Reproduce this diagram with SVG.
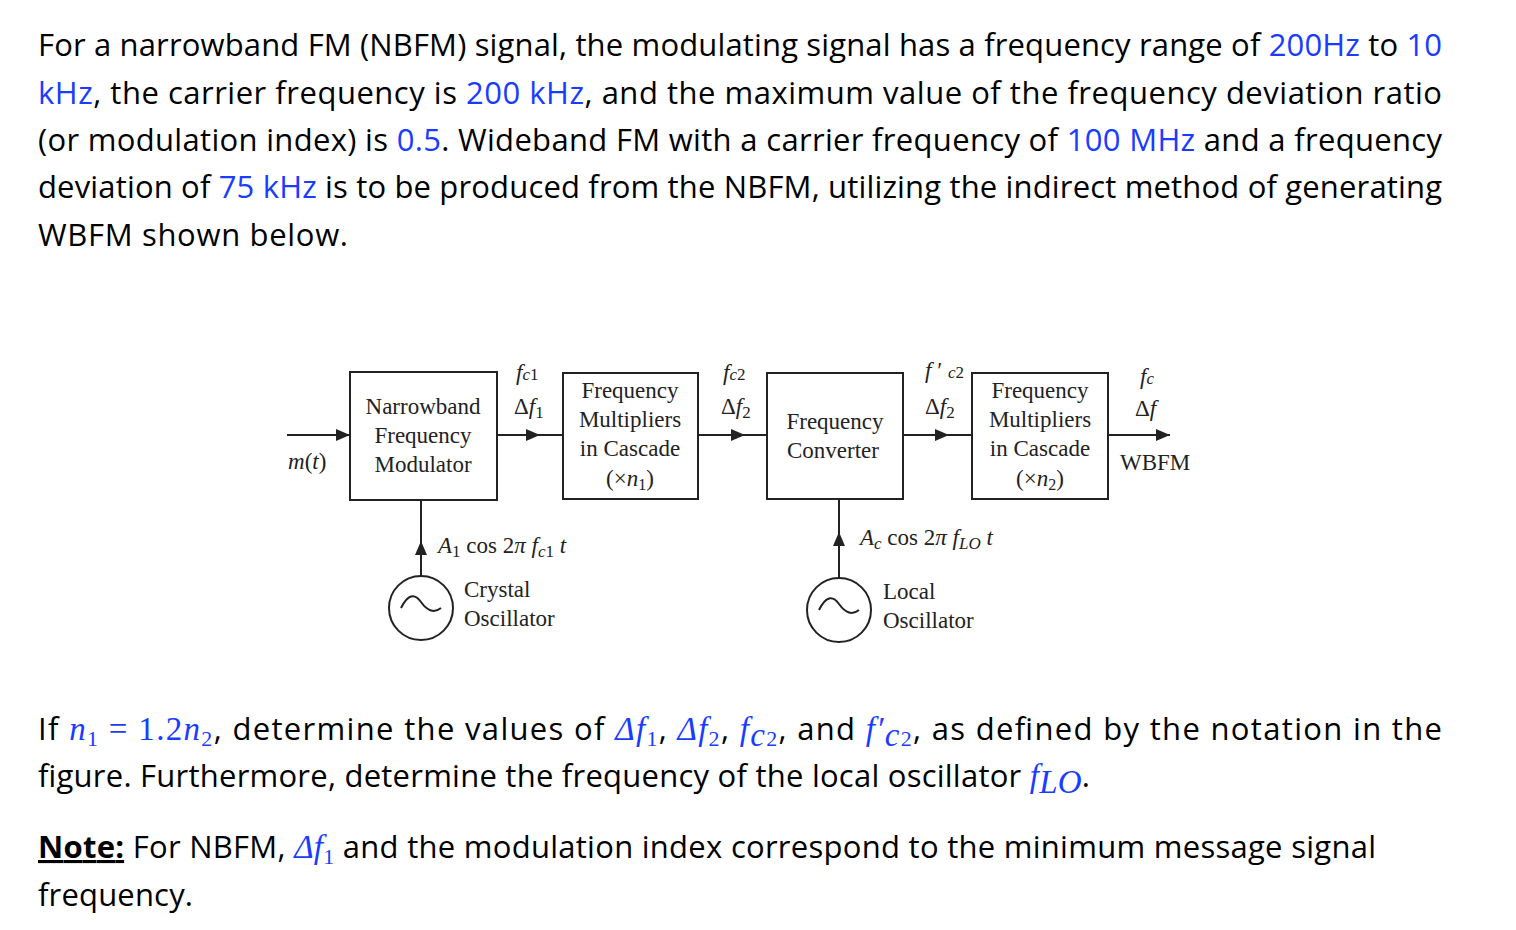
<svg xmlns="http://www.w3.org/2000/svg" width="1516" height="930" viewBox="0 0 1516 930">
<style>
.t{font-family:"Open Sans","Liberation Sans",sans-serif;font-size:31px;fill:#000}
.b{fill:#1a3cff}
.m{font-family:"Liberation Serif",serif;font-style:italic;font-size:33px}
.d{font-family:"Liberation Serif",serif;font-size:23px;fill:#222}
.i{font-style:italic}
.ln{stroke:#222;stroke-width:2;fill:none}
.box{fill:#fff;stroke:#222;stroke-width:2}
</style>
<rect width="1516" height="930" fill="#fff"/>
<text class="t" x="38" y="56" textLength="1404" lengthAdjust="spacing">For a narrowband FM (NBFM) signal, the modulating signal has a frequency range of <tspan class="b">200Hz</tspan> to <tspan class="b">10</tspan></text>
<text class="t" x="38" y="104" textLength="1404" lengthAdjust="spacing"><tspan class="b">kHz</tspan>, the carrier frequency is <tspan class="b">200 kHz</tspan>, and the maximum value of the frequency deviation ratio</text>
<text class="t" x="38" y="151" textLength="1404" lengthAdjust="spacing">(or modulation index) is <tspan class="b">0.5</tspan>. Wideband FM with a carrier frequency of <tspan class="b">100 MHz</tspan> and a frequency</text>
<text class="t" x="38" y="198" textLength="1404" lengthAdjust="spacing">deviation of <tspan class="b">75 kHz</tspan> is to be produced from the NBFM, utilizing the indirect method of generating</text>
<text class="t" x="38" y="246" textLength="310" lengthAdjust="spacing">WBFM shown below.</text>

<g id="connectors">
<line class="ln" x1="287" y1="435" x2="350" y2="435"/><path d="M336,429 L350,435 L336,441Z" fill="#222"/>
<line class="ln" x1="497" y1="435" x2="563" y2="435"/><path d="M526,429 L540,435 L526,441Z" fill="#222"/>
<line class="ln" x1="698" y1="435" x2="767" y2="435"/><path d="M731,429 L745,435 L731,441Z" fill="#222"/>
<line class="ln" x1="903" y1="435" x2="972" y2="435"/><path d="M935,429 L949,435 L935,441Z" fill="#222"/>
<line class="ln" x1="1108" y1="435" x2="1170" y2="435"/><path d="M1156,429 L1170,435 L1156,441Z" fill="#222"/>
<line class="ln" x1="421" y1="576" x2="421" y2="500"/><path d="M415,555 L421,541 L427,555Z" fill="#222"/>
<line class="ln" x1="839" y1="578" x2="839" y2="499"/><path d="M833,546 L839,532 L845,546Z" fill="#222"/>
</g>

<g id="nbfm"><rect class="box" x="350" y="372" width="147" height="128"/>
<text class="d" x="423" y="414" text-anchor="middle">Narrowband</text><text class="d" x="423" y="443" text-anchor="middle">Frequency</text><text class="d" x="423" y="472" text-anchor="middle">Modulator</text></g>
<g id="mult1"><rect class="box" x="563" y="373" width="135" height="126"/>
<text class="d" x="630" y="398" text-anchor="middle">Frequency</text><text class="d" x="630" y="427" text-anchor="middle">Multipliers</text><text class="d" x="630" y="456" text-anchor="middle">in Cascade</text><text class="d" x="630" y="486" text-anchor="middle">(×<tspan class="i">n</tspan><tspan font-size="16" dy="4">1</tspan><tspan dy="-4">)</tspan></text></g>
<g id="conv"><rect class="box" x="767" y="373" width="136" height="126"/>
<text class="d" x="835" y="429" text-anchor="middle">Frequency</text><text class="d" x="833" y="458" text-anchor="middle">Converter</text></g>
<g id="mult2"><rect class="box" x="972" y="373" width="136" height="126"/>
<text class="d" x="1040" y="398" text-anchor="middle">Frequency</text><text class="d" x="1040" y="427" text-anchor="middle">Multipliers</text><text class="d" x="1040" y="456" text-anchor="middle">in Cascade</text><text class="d" x="1040" y="486" text-anchor="middle">(×<tspan class="i">n</tspan><tspan font-size="16" dy="4">2</tspan><tspan dy="-4">)</tspan></text></g>

<g id="labels">
<text class="d" x="288" y="469"><tspan class="i">m</tspan>(<tspan class="i">t</tspan>)</text>
<text class="d" x="516" y="380"><tspan class="i">f</tspan><tspan class="i" font-size="17">c</tspan><tspan font-size="17">1</tspan></text>
<text class="d" x="514" y="414">Δ<tspan class="i">f</tspan><tspan font-size="17" dy="4">1</tspan></text>
<text class="d" x="723" y="380"><tspan class="i">f</tspan><tspan class="i" font-size="17">c</tspan><tspan font-size="17">2</tspan></text>
<text class="d" x="721" y="414">Δ<tspan class="i">f</tspan><tspan font-size="17" dy="4">2</tspan></text>
<text class="d" x="925" y="378"><tspan class="i">f</tspan> ′ <tspan class="i" font-size="17">c</tspan><tspan font-size="17">2</tspan></text>
<text class="d" x="925" y="414">Δ<tspan class="i">f</tspan><tspan font-size="17" dy="4">2</tspan></text>
<text class="d" x="1140" y="384"><tspan class="i">f</tspan><tspan class="i" font-size="17">c</tspan></text>
<text class="d" x="1135" y="416">Δ<tspan class="i">f</tspan></text>
<text class="d" x="1120" y="470">WBFM</text>
<text class="d" x="438" y="553"><tspan class="i">A</tspan><tspan font-size="17" dy="4">1</tspan><tspan dy="-4"> cos 2</tspan><tspan class="i">π f</tspan><tspan class="i" font-size="17" dy="4">c</tspan><tspan font-size="17">1</tspan><tspan class="i" dy="-4"> t</tspan></text>
<text class="d" x="860" y="545"><tspan class="i">A</tspan><tspan class="i" font-size="17" dy="4">c</tspan><tspan dy="-4"> cos 2</tspan><tspan class="i">π f</tspan><tspan class="i" font-size="17" dy="4">LO</tspan><tspan class="i" dy="-4"> t</tspan></text>
</g>
<g id="xtal"><circle class="ln" cx="421" cy="608" r="32"/><path class="ln" d="M401,608 Q411,588 421,602 T441,608"/><text class="d" x="464" y="597">Crystal</text><text class="d" x="464" y="626">Oscillator</text></g>
<g id="lo"><circle class="ln" cx="839" cy="610" r="32"/><path class="ln" d="M819,610 Q829,590 839,604 T859,610"/><text class="d" x="883" y="599">Local</text><text class="d" x="883" y="628">Oscillator</text></g>

<text class="t" x="38" y="740" textLength="1404" lengthAdjust="spacing">If <tspan class="b m">n</tspan><tspan class="b" font-size="22" dy="6" font-family="Liberation Serif">1</tspan><tspan class="b" dy="-6" font-family="Liberation Serif" font-size="33"> = 1.2</tspan><tspan class="b m">n</tspan><tspan class="b" font-size="22" dy="6" font-family="Liberation Serif">2</tspan><tspan dy="-6">, determine the values of </tspan><tspan class="b m">Δf</tspan><tspan class="b" font-size="22" dy="6" font-family="Liberation Serif">1</tspan><tspan dy="-6">, </tspan><tspan class="b m">Δf</tspan><tspan class="b" font-size="22" dy="6" font-family="Liberation Serif">2</tspan><tspan dy="-6">, </tspan><tspan class="b m">f</tspan><tspan class="b m" font-size="22" dy="6">c</tspan><tspan class="b" font-size="22" font-family="Liberation Serif">2</tspan><tspan dy="-6">, and </tspan><tspan class="b m">f′</tspan><tspan class="b m" font-size="22" dy="6">c</tspan><tspan class="b" font-size="22" font-family="Liberation Serif">2</tspan><tspan dy="-6">, as defined by the notation in the</tspan></text>
<text class="t" x="38" y="787" textLength="1052" lengthAdjust="spacing">figure. Furthermore, determine the frequency of the local oscillator <tspan class="b m">f</tspan><tspan class="b m" font-size="22" dy="6">LO</tspan><tspan dy="-6">.</tspan></text>
<text class="t" x="38" y="858" textLength="1338" lengthAdjust="spacing"><tspan font-weight="bold" text-decoration="underline">Note:</tspan> For NBFM, <tspan class="b m">Δf</tspan><tspan class="b" font-size="22" dy="6" font-family="Liberation Serif">1</tspan><tspan dy="-6"> and the modulation index correspond to the minimum message signal</tspan></text>
<text class="t" x="38" y="906" textLength="155" lengthAdjust="spacing">frequency.</text>
</svg>
